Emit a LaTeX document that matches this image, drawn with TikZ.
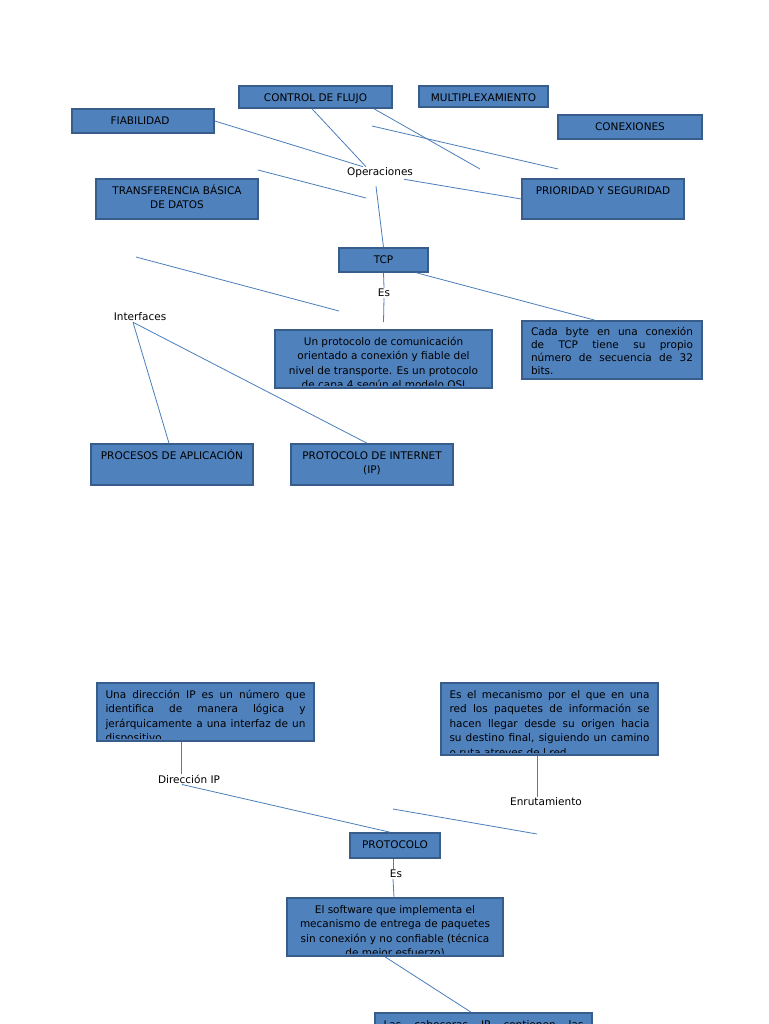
\documentclass[tikz,border=0pt]{standalone}
\usepackage{fontspec}
\setmainfont{DejaVu Sans}
\usetikzlibrary{calc}
\definecolor{boxfill}{HTML}{4F81BD}
\definecolor{boxline}{HTML}{385D8A}
\definecolor{conncol}{HTML}{4A7EBB}
\newcommand\bfnt{\fontsize{10.5}{14.5}\selectfont}
\newcommand\jfnt{\fontsize{10.5}{13.2}\selectfont}
\newcommand\jline[2]{\makebox[#1][s]{#2}}
\tikzset{
  box/.style={draw=boxline, fill=boxfill, line width=1.6pt, inner sep=0pt},
  btxt/.style={anchor=north, yshift=-5.5pt, inner sep=0pt, font=\bfnt, align=center, text=black},
  jtxt/.style={anchor=north, yshift=-5.5pt, inner sep=0pt, font=\bfnt, align=left, text=black},
  lbl/.style={inner sep=1pt, font=\bfnt, text=black},
  conn/.style={draw=conncol, line width=0.8pt},
}
\begin{document}
\begin{tikzpicture}[x=1pt,y=-1pt]
\clip (0,0) rectangle (768,1024);
\fill[white] (0,0) rectangle (768,1024);

% ---------- top part: boxes ----------
\node[box, minimum width=153pt, minimum height=22pt] (cf) at (315.5,97) {};
\node[btxt] at (cf.north) {\strut CONTROL DE FLUJO};
\node[box, minimum width=129pt, minimum height=21pt] (mux) at (483.5,96.5) {};
\node[btxt] at (mux.north) {\strut MULTIPLEXAMIENTO};
\node[box, minimum width=142pt, minimum height=24pt] (fia) at (143,121) {};
\node[btxt, xshift=-3pt] at (fia.north) {\strut FIABILIDAD};
\node[box, minimum width=144pt, minimum height=24pt] (con) at (630,127) {};
\node[btxt] at (con.north) {\strut CONEXIONES};
\node[box, minimum width=162pt, minimum height=40pt] (tbd) at (177,199) {};
\node[btxt] at (tbd.north) {\strut TRANSFERENCIA BÁSICA\\DE DATOS};
\node[box, minimum width=162pt, minimum height=40pt] (pys) at (603,199) {};
\node[btxt] at (pys.north) {\strut PRIORIDAD Y SEGURIDAD};
\node[box, minimum width=89pt, minimum height=24pt] (tcp) at (383.5,260) {};
\node[btxt] at (tcp.north) {\strut TCP};

\node[box, minimum width=217pt, minimum height=58pt] (upc) at (383.5,359) {};
\begin{scope}
  \clip ([xshift=1.5pt,yshift=3.5pt]upc.south west) rectangle ([xshift=-1.5pt,yshift=-1.5pt]upc.north east);
  \node[btxt] at (upc.north) {\strut Un protocolo de comunicación\\orientado a conexión y fiable del\\nivel de transporte. Es un protocolo\\de capa 4 según el modelo OSI};
\end{scope}

\node[box, minimum width=180pt, minimum height=58pt] (cby) at (612,350) {};
\node[jtxt, font=\jfnt] at (cby.north) {\jline{162pt}{\strut Cada byte en una conexión}\\\jline{162pt}{de TCP tiene su propio}\\\jline{162pt}{número de secuencia de 32}\\bits.};

\node[box, minimum width=162pt, minimum height=41pt] (pda) at (172,464.5) {};
\node[btxt] at (pda.north) {\strut PROCESOS DE APLICACIÓN};
\node[box, minimum width=162pt, minimum height=41pt] (pin) at (372,464.5) {};
\node[btxt] at (pin.north) {\strut PROTOCOLO DE INTERNET\\(IP)};

% ---------- top part: labels ----------
\node[lbl] (ops) at (380,173) {Operaciones};
\node[lbl] (es1) at (384,293) {Es};
\node[lbl] (itf) at (140,317) {Interfaces};

% free ends
\coordinate (f1) at (480,169);
\coordinate (f2a) at (372,126);
\coordinate (f2b) at (558,169);
\coordinate (f3a) at (258,170);
\coordinate (f3b) at (366,198);
\coordinate (f4a) at (136,257);
\coordinate (f4b) at (339,311);

% ---------- top part: connectors ----------
\draw[conn] ([xshift=-3.5pt]cf.south) -- ([xshift=-14pt]ops.north);
\draw[conn] ([xshift=58.5pt]cf.south) -- (f1);
\draw[conn] (f2a) -- (f2b);
\draw[conn] (fia.east) -- ([xshift=-17pt]ops.north);
\draw[conn] ([xshift=-10pt]ops.south east) -- (pys.west);
\draw[conn] (f3a) -- (f3b);
\draw[conn] ([xshift=-4pt,yshift=-7pt]ops.south) -- (tcp.north);
\draw[conn] (tcp.south) -- (es1.north);
\draw[conn] (es1.south) -- ([yshift=7pt]upc.north);
\draw[conn] ([xshift=33pt]tcp.south) -- ([xshift=-17pt]cby.north);
\draw[conn] (f4a) -- (f4b);
\draw[conn] ([xshift=-7pt]itf.south) -- ([xshift=-3pt]pda.north);
\draw[conn] ([xshift=-7pt]itf.south) -- ([xshift=-5pt]pin.north);

% ---------- bottom part: boxes ----------
\node[box, minimum width=217pt, minimum height=58pt] (udi) at (205.5,712) {};
\begin{scope}
  \clip ([xshift=1.5pt,yshift=3.5pt]udi.south west) rectangle ([xshift=-1.5pt,yshift=-1.5pt]udi.north east);
  \node[jtxt] at (udi.north) {\jline{200pt}{\strut Una dirección IP es un número que}\\\jline{200pt}{identifica de manera lógica y}\\\jline{200pt}{jerárquicamente a una interfaz de un}\\dispositivo};
\end{scope}

\node[box, minimum width=217pt, minimum height=72pt] (mec) at (549.5,719) {};
\begin{scope}
  \clip ([xshift=1.5pt,yshift=3.5pt]mec.south west) rectangle ([xshift=-1.5pt,yshift=-1.5pt]mec.north east);
  \node[jtxt] at (mec.north) {\jline{200pt}{\strut Es el mecanismo por el que en una}\\\jline{200pt}{red los paquetes de información se}\\\jline{200pt}{hacen llegar desde su origen hacia}\\\jline{200pt}{su destino final, siguiendo un camino}\\o ruta atreves de l red};
\end{scope}

\node[box, minimum width=90pt, minimum height=25pt] (pro) at (395,845.5) {};
\node[btxt] at (pro.north) {\strut PROTOCOLO};

\node[box, minimum width=216pt, minimum height=58pt] (sof) at (395,927) {};
\begin{scope}
  \clip ([xshift=1.5pt,yshift=3.5pt]sof.south west) rectangle ([xshift=-1.5pt,yshift=-1.5pt]sof.north east);
  \node[btxt] at (sof.north) {\strut El software que implementa el\\mecanismo de entrega de paquetes\\sin conexión y no confiable (técnica\\de mejor esfuerzo)};
\end{scope}

\node[box, minimum width=217pt, minimum height=58pt] (cab) at (483.5,1042) {};
\node[jtxt] at (cab.north) {\jline{200pt}{\strut Las cabeceras IP contienen las}};

% ---------- bottom part: labels ----------
\node[lbl] (dip) at (189,779) {Dirección IP};
\node[lbl] (enr) at (546,802) {Enrutamiento};
\node[lbl] (es2) at (396,874) {Es};

\coordinate (f5a) at (393,809);
\coordinate (f5b) at (537,834);

% ---------- bottom part: connectors ----------
\draw[conn] ([xshift=-24.5pt]udi.south) -- ([xshift=-8pt]dip.north);
\draw[conn] ([xshift=-7pt]dip.south) -- ([xshift=-5pt]pro.north);
\draw[conn] (f5a) -- (f5b);
\draw[conn] ([xshift=-12.5pt]mec.south) -- ([xshift=-9pt]enr.north);
\draw[conn] ([xshift=-2pt]pro.south) -- ([xshift=-3pt]es2.north);
\draw[conn] ([xshift=-3pt]es2.south) -- ([xshift=-1pt]sof.north);
\draw[conn] ([xshift=-10pt]sof.south) -- ([xshift=-12.5pt]cab.north);
\end{tikzpicture}
\end{document}
